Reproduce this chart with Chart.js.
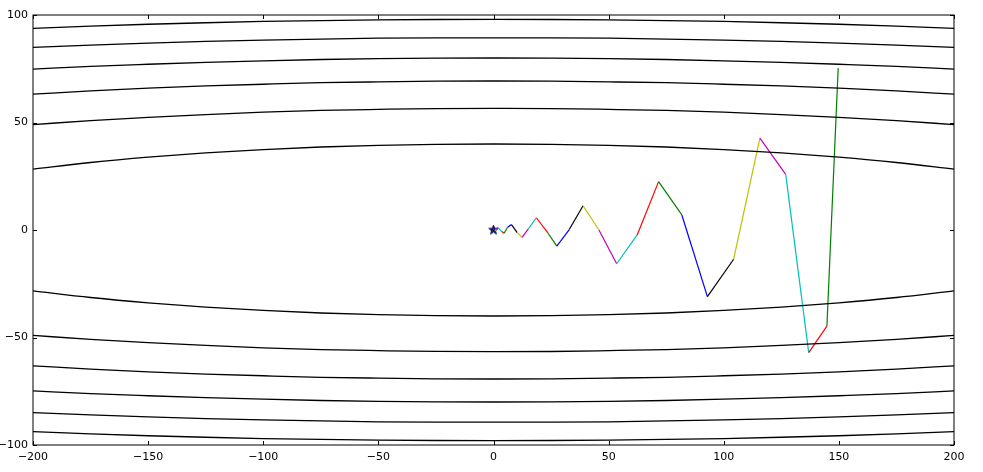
<!DOCTYPE html>
<html>
<head>
<meta charset="utf-8">
<script src="https://cdn.jsdelivr.net/npm/chart.js@4.4.0/dist/chart.umd.min.js"></script>
<style>
html,body{margin:0;padding:0;background:#fff;}
canvas{display:block;}
</style>
</head>
<body>
<canvas id="c" width="983" height="472"></canvas>
<script>
// ---- data ----
const xTicks = [-200, -150, -100, -50, 0, 50, 100, 150, 200];
const yTicks = [-100, -50, 0, 50, 100];

const contourX = [-200, -175, -150, -125, -100, -75, -50, -25, 0, 25, 50, 75, 100, 125, 150, 175, 200];
const contour1 = [28.3, 31.4, 33.9, 35.9, 37.4, 38.6, 39.4, 39.8, 40.0, 39.8, 39.4, 38.6, 37.4, 35.9, 33.9, 31.4, 28.3];
const contour2 = [49.0, 50.9, 52.4, 53.7, 54.8, 55.6, 56.1, 56.5, 56.6, 56.5, 56.1, 55.6, 54.8, 53.7, 52.4, 50.9, 49.0];
const contour3 = [63.2, 64.7, 66.0, 67.0, 67.8, 68.5, 68.9, 69.2, 69.3, 69.2, 68.9, 68.5, 67.8, 67.0, 66.0, 64.7, 63.2];
const contour4 = [74.8, 76.1, 77.1, 78.0, 78.7, 79.3, 79.7, 79.9, 80.0, 79.9, 79.7, 79.3, 78.7, 78.0, 77.1, 76.1, 74.8];
const contour5 = [84.9, 86.0, 86.9, 87.7, 88.3, 88.8, 89.2, 89.4, 89.4, 89.4, 89.2, 88.8, 88.3, 87.7, 86.9, 86.0, 84.9];
const contour6 = [93.8, 94.8, 95.7, 96.4, 97.0, 97.4, 97.7, 97.9, 98.0, 97.9, 97.7, 97.4, 97.0, 96.4, 95.7, 94.8, 93.8];
const contour1b = [-28.3, -31.4, -33.9, -35.9, -37.4, -38.6, -39.4, -39.8, -40.0, -39.8, -39.4, -38.6, -37.4, -35.9, -33.9, -31.4, -28.3];
const contour2b = [-49.0, -50.9, -52.4, -53.7, -54.8, -55.6, -56.1, -56.5, -56.6, -56.5, -56.1, -55.6, -54.8, -53.7, -52.4, -50.9, -49.0];
const contour3b = [-63.2, -64.7, -66.0, -67.0, -67.8, -68.5, -68.9, -69.2, -69.3, -69.2, -68.9, -68.5, -67.8, -67.0, -66.0, -64.7, -63.2];
const contour4b = [-74.8, -76.1, -77.1, -78.0, -78.7, -79.3, -79.7, -79.9, -80.0, -79.9, -79.7, -79.3, -78.7, -78.0, -77.1, -76.1, -74.8];
const contour5b = [-84.9, -86.0, -86.9, -87.7, -88.3, -88.8, -89.2, -89.4, -89.4, -89.4, -89.2, -88.8, -88.3, -87.7, -86.9, -86.0, -84.9];
const contour6b = [-93.8, -94.8, -95.7, -96.4, -97.0, -97.4, -97.7, -97.9, -98.0, -97.9, -97.7, -97.4, -97.0, -96.4, -95.7, -94.8, -93.8];

const pathX = [0, 0.6, 1.2, 2.0, 3.5, 4.6, 6.1, 7.8, 10.3, 12.4, 15.2, 18.6, 23.7, 27.5, 32.9, 38.9, 45.8, 53.5, 62.4, 71.7, 81.8, 92.9, 104.3, 115.7, 126.9, 136.9, 144.8, 149.7];
const pathY = [0, -0.5, 0.4, 1.1, -0.6, -1.5, 1.3, 2.5, -1.2, -3.4, 0.6, 5.7, -1.5, -7.5, 0.2, 11.3, 0.0, -15.7, -2.3, 22.5, 7.0, -31.0, -13.6, 42.7, 25.9, -57.0, -44.7, 75.3];

const startX = [0];
const startY = [0];

const colorCycle = ['#0000ff', '#008000', '#ff0000', '#00bfbf', '#bf00bf', '#bfbf00', '#000000'];

// ---- build datasets ----
function pts(xs, ys){ return xs.map((x,i)=>({x:x, y:ys[i]})); }
const contours = [contour1, contour2, contour3, contour4, contour5, contour6,
                  contour1b, contour2b, contour3b, contour4b, contour5b, contour6b];
const datasets = contours.map(c => ({
  data: pts(contourX, c),
  borderColor: '#000000',
  borderWidth: 1.3,
  pointRadius: 0,
  cubicInterpolationMode: 'monotone',
  fill: false
}));

const nPath = pathX.length;
datasets.push({
  data: pts(pathX, pathY),
  borderColor: '#000',
  borderWidth: 1.2,
  pointRadius: 0,
  tension: 0,
  fill: false,
  segment: {
    borderColor: ctx => colorCycle[(nPath - 1 - ctx.p0DataIndex) % 7]
  }
});

// filled star marker
const starCanvas = document.createElement('canvas');
starCanvas.width = 11; starCanvas.height = 11;
(function(){
  const g = starCanvas.getContext('2d');
  g.beginPath();
  for (let i = 0; i < 10; i++) {
    const r = i % 2 === 0 ? 5 : 2.1;
    const a = -Math.PI/2 + i * Math.PI/5;
    const px = 5.5 + r*Math.cos(a), py = 5.5 + r*Math.sin(a);
    if (i === 0) g.moveTo(px, py); else g.lineTo(px, py);
  }
  g.closePath();
  g.fillStyle = '#1a1a9a';
  g.fill();
  g.strokeStyle = '#000033';
  g.lineWidth = 0.8;
  g.stroke();
})();
datasets.push({
  data: pts(startX, startY),
  showLine: false,
  pointStyle: starCanvas,
  pointRadius: 5
});

const minus = v => String(v).replace('-', '\u2212');

const frame = {
  id: 'frame',
  afterDraw(chart){
    const {ctx, chartArea:a, scales} = chart;
    ctx.save();
    ctx.strokeStyle = '#000';
    ctx.lineWidth = 1;
    const L = Math.round(a.left), R = Math.round(a.right), T = Math.round(a.top), B = Math.round(a.bottom);
    ctx.strokeRect(L, T, R - L, B - T);
    ctx.beginPath();
    scales.x.ticks.forEach(t => {
      const p = Math.round(scales.x.getPixelForValue(t.value)) + 0.5;
      ctx.moveTo(p, B); ctx.lineTo(p, B - 4);
      ctx.moveTo(p, T); ctx.lineTo(p, T + 4);
    });
    scales.y.ticks.forEach(t => {
      const p = Math.round(scales.y.getPixelForValue(t.value)) + 0.5;
      ctx.moveTo(L, p); ctx.lineTo(L + 4, p);
      ctx.moveTo(R, p); ctx.lineTo(R - 4, p);
    });
    ctx.stroke();
    ctx.restore();
  }
};

new Chart(document.getElementById('c'), {
  type: 'line',
  data: { datasets },
  plugins: [frame],
  options: {
    responsive: false,
    animation: false,
    devicePixelRatio: 1,
    layout: { padding: { left: 0, right: 29, top: 15, bottom: 0 } },
    plugins: { legend: { display: false }, tooltip: { enabled: false } },
    scales: {
      x: {
        type: 'linear', min: -200, max: 200,
        afterBuildTicks: s => { s.ticks = xTicks.map(v => ({value: v})); },
        afterFit: s => { s.height = 27; },
        grid: { display: false, drawTicks: false },
        border: { display: false },
        ticks: { color: '#000', font: { family: 'DejaVu Sans', size: 11 }, padding: 6, maxRotation: 0, autoSkip: false, callback: v => minus(v) }
      },
      y: {
        type: 'linear', min: -100, max: 100,
        afterBuildTicks: s => { s.ticks = yTicks.map(v => ({value: v})); },
        afterFit: s => { s.width = 33; },
        grid: { display: false, drawTicks: false },
        border: { display: false },
        ticks: { color: '#000', font: { family: 'DejaVu Sans', size: 11 }, padding: 5, autoSkip: false, callback: v => minus(v) }
      }
    }
  }
});
</script>
</body>
</html>
